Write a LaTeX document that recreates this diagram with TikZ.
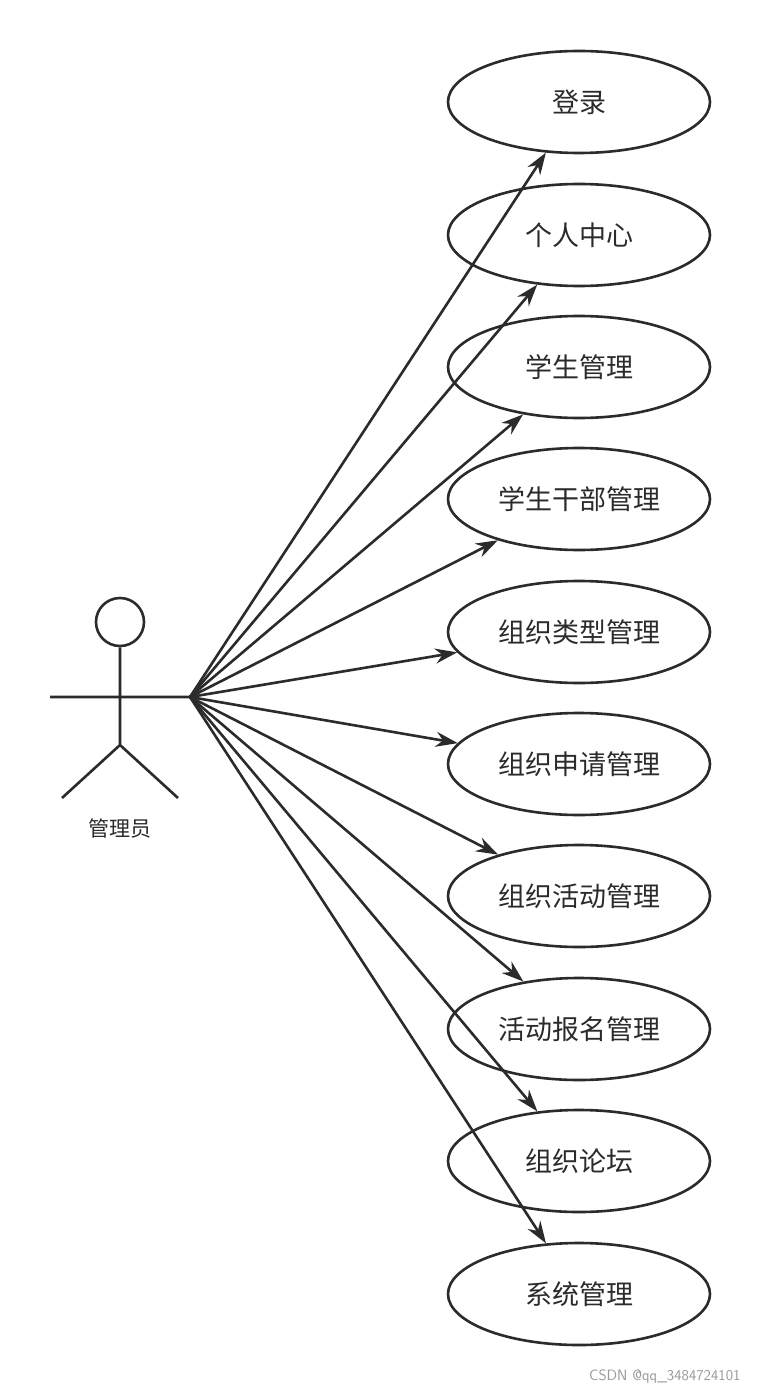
\documentclass[tikz,border=0pt]{standalone}
\usepackage{fontspec}
\newfontfamily\cjk{Noto Sans CJK SC}
\usetikzlibrary{arrows.meta,shapes.geometric}
\definecolor{ink}{HTML}{2B2B2B}
\begin{document}
\begin{tikzpicture}[x=1pt,y=1pt,
  uc/.style={draw=ink,line width=2.6pt,ellipse,minimum width=262pt,minimum height=102pt,inner sep=0pt,font=\cjk\fontsize{27}{32}\selectfont,text=ink},
  conn/.style={draw=ink,line width=2.6pt,-{Stealth[length=22pt,width=15pt]}},
  act/.style={draw=ink,line width=2.6pt}]
\useasboundingbox[fill=white] (0,0) rectangle (759,-1396);
\foreach \n/\y/\t in {a/102/登录,b/235/个人中心,c/367/学生管理,d/499/学生干部管理,e/632/组织类型管理,f/764/组织申请管理,g/896/组织活动管理,h/1029/活动报名管理,i/1161/组织论坛,j/1294/系统管理}
  \node[uc] (\n) at (579,-\y) {\t};
\node[act,circle,minimum size=48pt,inner sep=0pt] (head) at (120,-622) {};
\coordinate (hip) at (120,-745);
\coordinate (la) at (50,-697);
\coordinate (ra) at (190,-697);
\coordinate (ll) at (62,-798);
\coordinate (rl) at (178,-798);
\draw[act] (head.south) -- (hip) (la) -- (ra) (ll) -- (hip) -- (rl);
\node[font=\cjk\fontsize{21}{24}\selectfont,text=ink] (lbl) at (120,-829) {管理员};
\foreach \n in {a,b,c,d,e,f,g,h,i,j} \draw[conn] (ra) -- (\n);
\node[anchor=east,font=\fontsize{15}{17}\selectfont\sffamily,text=gray!80] (wm) at (744,-1377) {CSDN @qq\_3484724101};
\end{tikzpicture}
\end{document}
